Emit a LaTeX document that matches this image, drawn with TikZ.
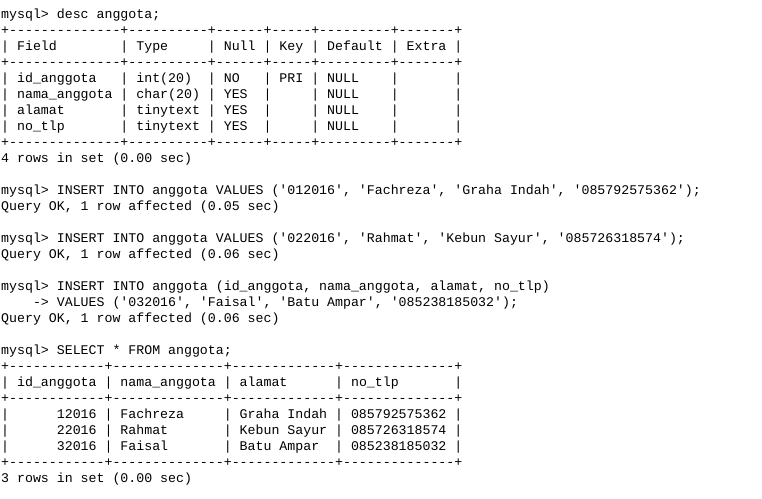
\documentclass[tikz,border=0pt]{standalone}
\usepackage{fontspec}
\setmonofont{Liberation Mono}
\begin{document}
\def\bA{+--------------+----------+------+-----+---------+-------+}
\def\bB{+------------+--------------+-------------+--------------+}
\begin{tikzpicture}[x=1pt,y=1pt,every node/.style={anchor=base west,inner sep=0pt,font=\ttfamily\fontsize{13.25}{16}\selectfont}]
\fill[white] (0,0) rectangle (762,-498);
\useasboundingbox (0,0) rectangle (762,-498);
\def\L#1#2{\node (l#1) at (1,{-18-16*#1}) {#2};}
\L{0}{mysql> desc anggota;}
\L{1}{\bA}
\L{2}{|~Field~~~~~~~~|~Type~~~~~|~Null~|~Key~|~Default~|~Extra~|}
\L{3}{\bA}
\L{4}{|~id\_anggota~~~|~int(20)~~|~NO~~~|~PRI~|~NULL~~~~|~~~~~~~|}
\L{5}{|~nama\_anggota~|~char(20)~|~YES~~|~~~~~|~NULL~~~~|~~~~~~~|}
\L{6}{|~alamat~~~~~~~|~tinytext~|~YES~~|~~~~~|~NULL~~~~|~~~~~~~|}
\L{7}{|~no\_tlp~~~~~~~|~tinytext~|~YES~~|~~~~~|~NULL~~~~|~~~~~~~|}
\L{8}{\bA}
\L{9}{4 rows in set (0.00 sec)}
\L{11}{mysql> INSERT INTO anggota VALUES ('012016', 'Fachreza', 'Graha Indah', '085792575362');}
\L{12}{Query OK, 1 row affected (0.05 sec)}
\L{14}{mysql> INSERT INTO anggota VALUES ('022016', 'Rahmat', 'Kebun Sayur', '085726318574');}
\L{15}{Query OK, 1 row affected (0.06 sec)}
\L{17}{mysql> INSERT INTO anggota (id\_anggota, nama\_anggota, alamat, no\_tlp)}
\L{18}{~~~~->~VALUES ('032016', 'Faisal', 'Batu Ampar', '085238185032');}
\L{19}{Query OK, 1 row affected (0.06 sec)}
\L{21}{mysql> SELECT * FROM anggota;}
\L{22}{\bB}
\L{23}{|~id\_anggota~|~nama\_anggota~|~alamat~~~~~~|~no\_tlp~~~~~~~|}
\L{24}{\bB}
\L{25}{|~~~~~~12016~|~Fachreza~~~~~|~Graha~Indah~|~085792575362~|}
\L{26}{|~~~~~~22016~|~Rahmat~~~~~~~|~Kebun~Sayur~|~085726318574~|}
\L{27}{|~~~~~~32016~|~Faisal~~~~~~~|~Batu~Ampar~~|~085238185032~|}
\L{28}{\bB}
\L{29}{3 rows in set (0.00 sec)}
\end{tikzpicture}
\end{document}
